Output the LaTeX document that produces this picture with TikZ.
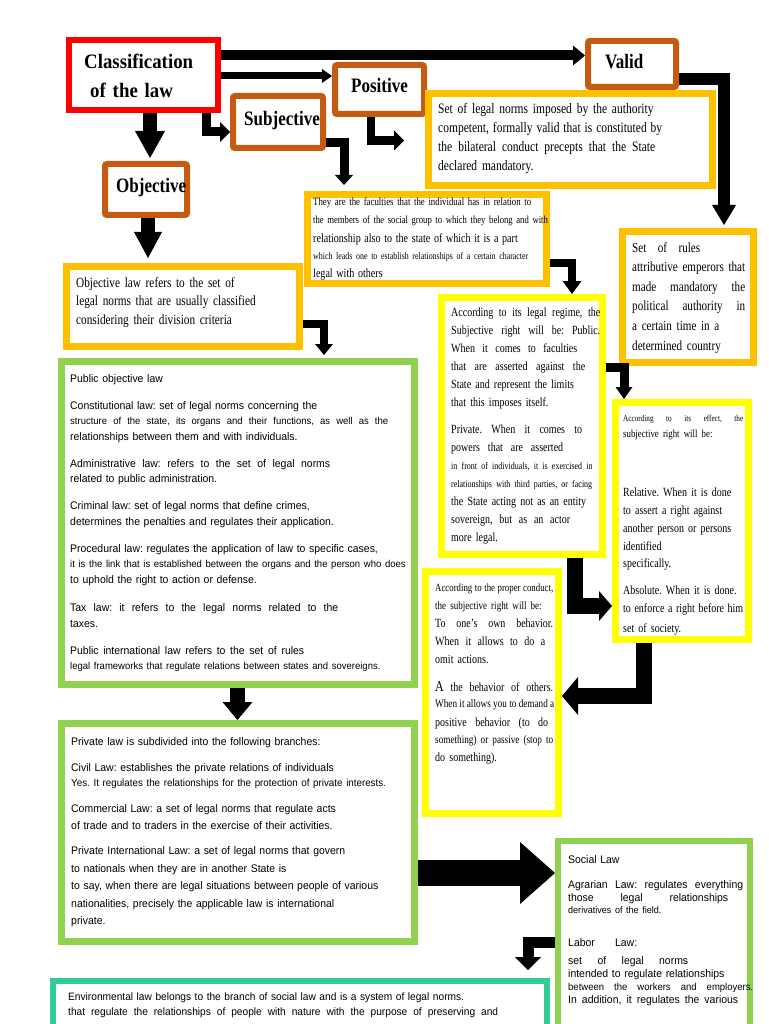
\documentclass[tikz,border=0pt]{standalone}
\usepackage{fontspec}
\setmainfont{Liberation Serif}
\newfontfamily\tnr{Liberation Serif}[FakeStretch=0.8]
\newfontfamily\tnb{Liberation Serif}[FakeStretch=0.83]
\newfontfamily\tnc{Liberation Serif}[FakeStretch=0.92]
\newfontfamily\ars{Liberation Sans}[FakeStretch=0.95]
\usetikzlibrary{arrows.meta}
\frenchspacing
\newcommand\fs[1]{\fontsize{#1}{\baselineskip}\selectfont}
\newcommand\jst[2]{\makebox[#1pt][s]{\spaceskip=\fontdimen2\font plus 1fil\relax\xspaceskip=\spaceskip #2}}
\definecolor{cred}{HTML}{FF0000}
\definecolor{cbrown}{HTML}{C55A11}
\definecolor{cgold}{HTML}{FFC000}
\definecolor{cyel}{HTML}{FFFF00}
\definecolor{cgreen}{HTML}{92D050}
\definecolor{cteal}{HTML}{33CC99}
\tikzset{
  bx/.style={draw=#1, line width=7pt, inner sep=0pt, fill=white},
  bxr/.style={bx=#1, rounded corners=2pt},
  txt/.style={anchor=base west, inner sep=0pt, text width=450pt},
  ar/.style={draw=black, line width=#1, line join=miter, line cap=butt},
  tp/.style 2 args={-{Triangle[width=#1pt,length=#2pt,line width=0pt]}},
  ttl/.style={txt, font={\tnb\bfseries\fontsize{20.5}{24}\selectfont}}
}
\begin{document}
\begin{tikzpicture}[x=1pt,y=-1pt]
\useasboundingbox (0,0) rectangle (768,1024);
\clip (0,0) rectangle (768,1024);
\fill[white] (0,0) rectangle (768,1024);

% boxes
\node[bx=cred, line width=6pt, minimum width=149pt, minimum height=70pt] (cls) at (143.5,75) {};
\node[bxr=cbrown, line width=6pt, minimum width=88pt, minimum height=46pt] (valid) at (632,64) {};
\node[bxr=cbrown, line width=6pt, minimum width=89pt, minimum height=49pt] (pos) at (379.5,89.5) {};
\node[bxr=cbrown, line width=6pt, minimum width=90pt, minimum height=52pt] (subj) at (278,122) {};
\node[bxr=cbrown, line width=6pt, minimum width=82pt, minimum height=51pt] (obj) at (146,189.5) {};
\node[bx=cgold, minimum width=284pt, minimum height=92pt] (b1) at (570.5,139.5) {};
\node[bx=cgold, minimum width=239pt, minimum height=89pt] (fac) at (427,239) {};
\node[bx=cgold, minimum width=131pt, minimum height=131pt] (rules) at (688,297) {};
\node[bx=cgold, minimum width=233pt, minimum height=80pt] (objl) at (183,306.5) {};
\node[bx=cgreen, minimum width=353pt, minimum height=323pt] (pub) at (238,523) {};
\node[bx=cyel, minimum width=161pt, minimum height=257pt] (reg) at (522,426) {};
\node[bx=cyel, minimum width=133pt, minimum height=237pt] (eff) at (682,521) {};
\node[bx=cyel, minimum width=133pt, minimum height=242pt] (pc) at (492,692.5) {};
\node[bx=cgreen, minimum width=353pt, minimum height=218pt] (priv) at (238,832.5) {};
\node[bx=cgreen, line width=6pt, minimum width=192pt, minimum height=259pt] (soc) at (654,970.5) {};
\node[bx=cteal, line width=6pt, minimum width=494pt, minimum height=118pt] (env) at (300,1040) {};

% connectors
\draw[ar=10pt, tp={20}{12}] (cls.east |- 0,55.5) -- (valid.west |- 0,55.5);
\draw[ar=7pt, tp={14}{10}] (cls.east |- 0,76) -- (pos.west |- 0,76);
\draw[ar=14pt, tp={30}{27}, shorten >=3pt] (cls.south -| 150,0) -- (obj.north -| 150,0);
\draw[ar=9pt, tp={20}{10}] (cls.south -| 206.5,0) |- (subj.west |- 0,132);
\draw[ar=8.5pt, tp={20}{10}, shorten >=21pt] (pos.south -| 371,0) |- (b1.west |- 0,140.5);
\draw[ar=9pt, tp={18}{10}, shorten >=6pt] (subj.east |- 0,143) -| (fac.north -| 344,0);
\draw[ar=12pt, tp={24}{20}, shorten >=3pt] (valid.east |- 0,79) -| (rules.north -| 724,0);
\draw[ar=14pt, tp={28}{26}, shorten >=5pt] (obj.south -| 148,0) -- (objl.north -| 148,0);
\draw[ar=8pt, tp={19}{13}] (fac.east |- 0,263) -| (reg.north -| 572,0);
\draw[ar=8pt, tp={18}{11}, shorten >=3pt] (objl.east |- 0,324) -| (pub.north -| 324,0);
\draw[ar=9pt, tp={17}{12}] (reg.east |- 0,367.5) -| (eff.north -| 624,0);
\draw[ar=16pt, tp={30}{13}] (reg.south -| 575,0) |- (eff.west |- 0,606);
\draw[ar=16pt, tp={38}{16}] (eff.south -| 643.5,0) |- (pc.east |- 0,696);
\draw[ar=15pt, tp={30}{18}] (pub.south -| 237.5,0) -- (priv.north -| 237.5,0);
\draw[ar=26pt, tp={62}{35}] (priv.east |- 0,873) -- (soc.west |- 0,873);
\draw[ar=11pt, tp={26}{13}, shorten >=8pt] (soc.west |- 0,942.5) -| (env.north -| 528,0);

% titles
\node[txt, font={\tnc\bfseries\fontsize{20.5}{29}\selectfont}] (clst) at (84,69) {Classification\\\hspace*{6pt}of the law};
\node[ttl] (validt) at (605,69) {Valid};
\node[ttl] (post) at (351,93) {Positive};
\node[ttl] (subjt) at (244,125.5) {Subjective};
\node[ttl] (objt) at (116,193) {Objective};

% gold texts
\node[txt, font={\tnr\fontsize{14.4}{19}\selectfont}] (b1t) at (438,114) {Set of legal norms imposed by the authority\\
\jst{224}{competent, formally valid that is constituted by}\\
\jst{217}{the bilateral conduct precepts that the State}\\
declared mandatory.};

\node[txt, font={\tnr\fontsize{11}{18}\selectfont}] (fact) at (313,206) {{\fs{11}They are the faculties that the individual has in relation to}\\
{\fs{10.8}the members of the social group to which they belong and with}\\
{\fs{12.6}relationship also to the state of which it is a part}\\
{\fs{9.9}which leads one to establish relationships of a certain character}\\
{\fs{12.6}legal with others}};

\node[txt, font={\tnr\fontsize{13.9}{19.6}\selectfont}] (rulest) at (632,252) {\jst{68}{Set of rules}\\
\jst{113}{attributive emperors that}\\
\jst{113}{made mandatory the}\\
\jst{113}{political authority in}\\
a certain time in a\\
determined country};

\node[txt, font={\tnr\fontsize{14.1}{18.5}\selectfont}] (objlt) at (76,287) {Objective law refers to the set of\\
legal norms that are usually classified\\
considering their division criteria};

% yellow texts
\node[txt, font={\tnr\fontsize{12.5}{18}\selectfont}] (regt) at (451,316) {\jst{149}{According to its legal regime, the}\\
\jst{149}{Subjective right will be: Public.}\\
\jst{126}{When it comes to faculties}\\
\jst{134}{that are asserted against the}\\
State and represent the limits\\
that this imposes itself.\\[9pt]
\jst{131}{Private. When it comes to}\\
\jst{112}{powers that are asserted}\\
{\fs{10}in front of individuals, it is exercised in}\\
{\fs{10}relationships with third parties, or facing}\\
the State acting not as an entity\\
\jst{119}{sovereign, but as an actor}\\
more legal.};

\node[txt, font={\tnr\fontsize{12.5}{18}\selectfont}] (efft) at (623,421) {{\fs{9}\jst{120}{According to its effect, the}}\\[-2pt]
{\fs{11}subjective right will be:}\\[41pt]
Relative. When it is done\\
to assert a right against\\
another person or persons\\
identified\\[-1pt]
specifically.\\[9pt]
Absolute. When it is done.\\
\jst{120}{to enforce a right before him}\\[2pt]
set of society.};

\node[txt, font={\tnr\fontsize{12.5}{18}\selectfont}] (pct) at (435,591) {{\fs{11}\jst{118}{According to the proper conduct,}}\\
{\fs{11.3}the subjective right will be:}\\
\jst{118}{To one’s own behavior.}\\
\jst{110}{When it allows to do a}\\
omit actions.\\[10pt]
\jst{118}{{\fs{15}A} the behavior of others.}\\[-2pt]
{\fs{11.5}\jst{118}{When it allows you to demand a}}\\[1pt]
\jst{113}{positive behavior (to do}\\[-1pt]
{\fs{11.5}\jst{118}{something) or passive (stop to}}\\
do something).};

% green texts
\node[txt, font={\ars\fontsize{11}{15.5}\selectfont}] (pubt) at (70,382) {Public objective law\\[11.5pt]
Constitutional law: set of legal norms concerning the\\
{\fs{10}\jst{318}{structure of the state, its organs and their functions, as well as the}}\\
relationships between them and with individuals.\\[11.5pt]
\jst{260}{Administrative law: refers to the set of legal norms}\\
related to public administration.\\[11.5pt]
Criminal law: set of legal norms that define crimes,\\
determines the penalties and regulates their application.\\[11.5pt]
Procedural law: regulates the application of law to specific cases,\\
{\fs{10}it is the link that is established between the organs and the person who does}\\
to uphold the right to action or defense.\\[13pt]
\jst{268}{Tax law: it refers to the legal norms related to the}\\
taxes.\\[11.5pt]
\jst{234}{Public international law refers to the set of rules}\\
{\fs{10}legal frameworks that regulate relations between states and sovereigns.}};

\node[txt, font={\ars\fontsize{11}{17.5}\selectfont}] (privt) at (71,745.5) {Private law is subdivided into the following branches:\\[8pt]
Civil Law: establishes the private relations of individuals\\[-2pt]
{\fs{10.3}Yes. It regulates the relationships for the protection of private interests.}\\[8pt]
Commercial Law: a set of legal norms that regulate acts\\
of trade and to traders in the exercise of their activities.\\[7.5pt]
Private International Law: a set of legal norms that govern\\
to nationals when they are in another State is\\
to say, when there are legal situations between people of various\\
nationalities, precisely the applicable law is international\\
private.};

\node[txt, font={\ars\fontsize{11}{13}\selectfont}] (soct) at (568,863) {Social Law\\[12.5pt]
\jst{175}{Agrarian Law: regulates everything}\\
\jst{160}{those legal relationships}\\[-1pt]
{\fs{9.5}derivatives of the field.}\\[20pt]
\jst{69}{Labor Law:}\\[5pt]
\jst{120}{set of legal norms}\\
intended to regulate relationships\\
{\fs{10}\jst{185}{between the workers and employers.}}\\
\jst{170}{In addition, it regulates the various}};

\node[txt, font={\ars\fontsize{10.7}{15}\selectfont}] (envt) at (68,1000) {Environmental law belongs to the branch of social law and is a system of legal norms.\\
\jst{430}{that regulate the relationships of people with nature with the purpose of preserving and}};
\end{tikzpicture}
\end{document}
